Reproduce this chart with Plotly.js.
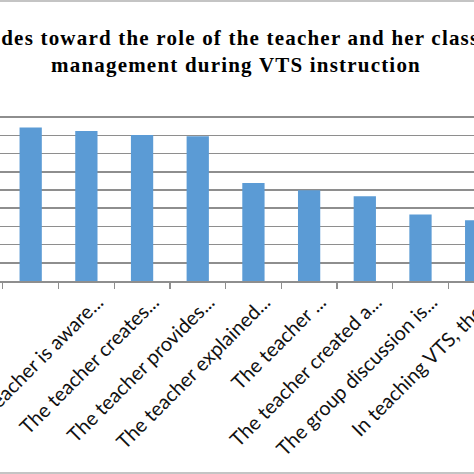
<!DOCTYPE html>
<html>
<head>
<meta charset="utf-8">
<script src="https://cdn.plot.ly/plotly-3.0.1.min.js"></script>
<style>
  body { margin: 0; overflow: hidden; background: #fff; }
  #frame { position: relative; width: 474px; height: 474px; overflow: hidden; }
  #chart { position: absolute; left: -100px; top: 0; width: 700px; height: 474px; }
  #border { position: absolute; left: 0; top: 0; width: 474px; height: 470px;
            border-top: 2px solid #c4c4c4; border-bottom: 2px solid #c4c4c4; pointer-events: none; }
  .gtitle { letter-spacing: 1.2px; }
</style>
</head>
<body>
<div id="frame">
  <div id="chart"></div>
  <div id="border"></div>
</div>
<script>
// the picture is a crop of a wider chart: only these bars are visible
var bar_index = [1, 2, 3, 4, 5, 6, 7, 8, 9];
var values = [84.4, 82.4, 80.2, 79.6, 53.9, 49.9, 46.6, 36.5, 33.4];
var labels = [
  'The teacher is aware...',
  'The teacher creates...',
  'The teacher provides...',
  'The teacher explained...',
  'The teacher ...',
  'The teacher created a...',
  'The group discussion is...',
  'In teaching VTS, the...'
];

var bar_color = '#5b9bd5';
var grid_color = '#8e8e8e';

// excel hangs the rotated labels to the right of their bar
var label_shift = 1.2;
var label_pos = labels.map(function (l, i) { return bar_index[i] + label_shift; });
var boundaries = bar_index.map(function (v) { return v - 0.5; }).concat([bar_index[bar_index.length - 1] + 0.5]);

var trace = {
  x: bar_index,
  y: values,
  type: 'bar',
  marker: {color: bar_color},
  hoverinfo: 'skip'
};

var layout = {
  width: 700,
  height: 474,
  margin: {l: 75, r: 57, t: 99, b: 193, pad: 0},
  paper_bgcolor: 'rgba(0,0,0,0)',
  plot_bgcolor: 'rgba(0,0,0,0)',
  bargap: 0.6,
  showlegend: false,
  title: {
    text: 'Attitudes toward the role of the teacher and her classroom<br>management during VTS instruction',
    font: {family: 'Liberation Serif', size: 21, color: '#000', weight: 700},
    xref: 'container',
    yref: 'container',
    x: 0.48,
    y: 0.906,
    xanchor: 'center',
    yanchor: 'middle'
  },
  xaxis: {
    type: 'linear',
    range: [0, 10.2],
    tickmode: 'array',
    tickvals: label_pos,
    ticktext: labels,
    tickangle: -45,
    ticks: '',
    tickfont: {family: 'Lato', size: 20, color: '#111'},
    showgrid: false,
    zeroline: false,
    showline: true,
    linecolor: grid_color,
    linewidth: 1.5,
    automargin: false,
    minor: {
      tickmode: 'array',
      tickvals: boundaries,
      ticks: 'outside',
      ticklen: 6,
      tickwidth: 1.3,
      tickcolor: grid_color,
      showgrid: false
    }
  },
  yaxis: {
    range: [0, 100],
    dtick: 10,
    showgrid: true,
    gridcolor: grid_color,
    gridwidth: 1.5,
    zeroline: false,
    showline: false,
    showticklabels: false,
    ticks: '',
    automargin: false
  }
};

Plotly.newPlot('chart', [trace], layout, {staticPlot: true, displayModeBar: false});
</script>
</body>
</html>
